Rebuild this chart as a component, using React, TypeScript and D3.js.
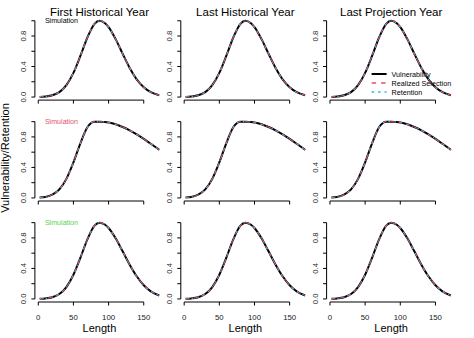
import React from "react";
import * as d3 from "d3";

const W = 474;
const H = 338;

const columnTitles = ["First Historical Year", "Last Historical Year", "Last Projection Year"];
const rowLabelColors = ["#000000", "#DF536B", "#61D04F"];
const rowLabel = "Simulation";

const lengths = [2, 10, 20, 30, 40, 50, 60, 70, 80, 87, 95, 100, 110, 120, 130, 140, 150, 160, 172];

const row1Vuln = [0.002, 0.007, 0.023, 0.065, 0.156, 0.317, 0.542, 0.784, 0.96, 1.0, 0.967, 0.916, 0.759, 0.567, 0.382, 0.232, 0.127, 0.063, 0.023];
const row2Vuln = [0.005, 0.013, 0.042, 0.112, 0.25, 0.465, 0.72, 0.929, 1.0, 0.999, 0.995, 0.988, 0.965, 0.93, 0.886, 0.833, 0.774, 0.71, 0.63];
const row3Vuln = [0.002, 0.007, 0.023, 0.065, 0.156, 0.317, 0.542, 0.784, 0.96, 1.0, 0.973, 0.93, 0.795, 0.624, 0.449, 0.297, 0.18, 0.1, 0.045];

// realized selection and retention coincide with vulnerability in the picture
const row1Sel = row1Vuln;
const row2Sel = row2Vuln;
const row3Sel = row3Vuln;
const row1Ret = row1Vuln;
const row2Ret = row2Vuln;
const row3Ret = row3Vuln;

const rowsData = [
  { vuln: row1Vuln, sel: row1Sel, ret: row1Ret },
  { vuln: row2Vuln, sel: row2Sel, ret: row2Ret },
  { vuln: row3Vuln, sel: row3Sel, ret: row3Ret },
];

const xTicks = [0, 50, 100, 150];
const yTicks = [0, 0.2, 0.4, 0.6, 0.8, 1.0];
const yTickLabels = ["0.0", "", "0.4", "", "0.8", ""];

const legendLabels = ["Vulnerability", "Realized Selection", "Retention"];
const seriesColors = ["#000000", "#DF536B", "#33B5E5"];

const FONT = "'Liberation Sans', Arial, Helvetica, sans-serif";

const colLeft = [34.9, 180.8, 326.6];
const rowTop = [17.7, 118.6, 219.6];
const plotW = 129.1;
const plotH = 82.4;

function Panel({ r, c }: { r: number; c: number }) {
  const L = colLeft[c];
  const T = rowTop[r];
  const x = d3.scaleLinear().domain([-4.8, 178.8]).range([L, L + plotW]);
  const y = d3.scaleLinear().domain([-0.04, 1.04]).range([T + plotH, T]);
  const bottom = T + plotH;
  const data = rowsData[r];
  const mk = (vals: number[]) =>
    d3
      .line<number>()
      .x((_, i) => x(lengths[i]))
      .y((v) => y(v))
      .curve(d3.curveMonotoneX)(vals) || "";

  return (
    <g>
      {/* y axis */}
      <line x1={L} x2={L} y1={y(0)} y2={y(1)} stroke="#000" strokeWidth={1} />
      {yTicks.map((t, i) => (
        <g key={"yt" + i}>
          <line x1={L - 3.5} x2={L} y1={y(t)} y2={y(t)} stroke="#000" strokeWidth={1} />
          {yTickLabels[i] && (
            <text
              transform={`translate(${L - 9},${y(t)}) rotate(-90)`}
              textAnchor="middle"
              fontSize={7.8}
              fontFamily={FONT}
              fill="#222"
            >
              {yTickLabels[i]}
            </text>
          )}
        </g>
      ))}
      {/* x axis */}
      <line x1={x(0)} x2={x(150)} y1={bottom} y2={bottom} stroke="#000" strokeWidth={1} />
      {xTicks.map((t) => (
        <g key={"xt" + t}>
          <line x1={x(t)} x2={x(t)} y1={bottom} y2={bottom + 3.5} stroke="#000" strokeWidth={1} />
          {r === 2 && (
            <text x={x(t)} y={bottom + 18} textAnchor="middle" fontSize={7.8} fontFamily={FONT} fill="#222">
              {t}
            </text>
          )}
        </g>
      ))}
      {r === 2 && (
        <text x={L + plotW / 2} y={bottom + 30} textAnchor="middle" fontSize={11} fontFamily={FONT} fill="#000">
          Length
        </text>
      )}
      {r === 0 && (
        <text x={L + plotW / 2} y={15.5} textAnchor="middle" fontSize={11.5} fontFamily={FONT} fill="#000">
          {columnTitles[c]}
        </text>
      )}
      {/* curves */}
      <path d={mk(data.vuln)} fill="none" stroke={seriesColors[0]} strokeWidth={2} />
      <path d={mk(data.sel)} fill="none" stroke={seriesColors[1]} strokeWidth={1.2} strokeDasharray="4,4" />
      <path d={mk(data.ret)} fill="none" stroke={seriesColors[2]} strokeWidth={1.2} strokeDasharray="1.5,4.5" />
      {c === 0 && (
        <text x={L + 10} y={T + 5.5} fontSize={7.1} fontFamily={FONT} fill={rowLabelColors[r]}>
          {rowLabel}
        </text>
      )}
      {r === 0 && c === 2 && (
        <g>
          {legendLabels.map((lab, i) => {
            const ly = 74 + i * 9;
            return (
              <g key={lab}>
                <line
                  x1={L + 45}
                  x2={L + 60}
                  y1={ly}
                  y2={ly}
                  stroke={seriesColors[i]}
                  strokeWidth={i === 0 ? 2 : 1.6}
                  strokeDasharray={i === 0 ? undefined : i === 1 ? "4.5,5" : "2.5,4"}
                />
                <text x={L + 65} y={ly + 2.5} fontSize={7.2} fontFamily={FONT} fill="#000">
                  {lab}
                </text>
              </g>
            );
          })}
        </g>
      )}
    </g>
  );
}

export default function App() {
  const cells: { r: number; c: number }[] = [];
  for (let r = 0; r < 3; r++) for (let c = 0; c < 3; c++) cells.push({ r, c });
  return (
    <svg
      width={W}
      height={H}
      viewBox={`0 0 ${W} ${H}`}
      style={{ position: "absolute", left: 0, top: 0, background: "#fff", display: "block" }}
    >
      <rect x={0} y={0} width={W} height={H} fill="#fff" />
      {cells.map((p) => (
        <Panel key={`${p.r}-${p.c}`} r={p.r} c={p.c} />
      ))}
      <text
        transform={`translate(8.5,158) rotate(-90)`}
        textAnchor="middle"
        fontSize={11}
        fontFamily={FONT}
        fill="#000"
      >
        Vulnerability/Retention
      </text>
    </svg>
  );
}
